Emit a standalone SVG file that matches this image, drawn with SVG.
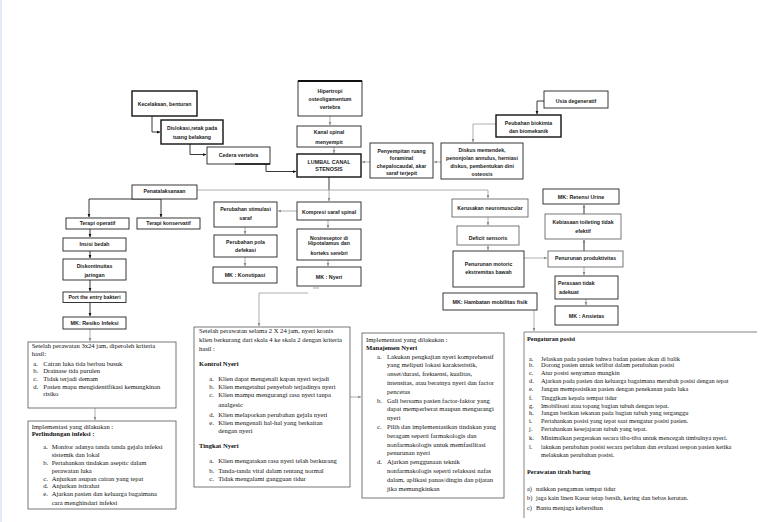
<svg xmlns="http://www.w3.org/2000/svg" width="768" height="522" viewBox="0 0 768 522">
<style>
.b{fill:#fff;stroke:#222;stroke-width:.9}
.bk{fill:#fff;stroke:#111;stroke-width:1.4}
.bl{fill:#fff;stroke:#555;stroke-width:.8}
.t{font-family:"Liberation Sans",Arial,sans-serif;font-size:5.2px;font-weight:bold;fill:#1a1a1a;text-anchor:middle}
.m{font-size:5.4px}
.s{font-family:"Liberation Serif","Times New Roman",serif;font-size:6.6px;fill:#111}
.r{font-size:6.3px}
.sb{font-weight:bold}
.c{fill:none;stroke:#999;stroke-width:.8}
.cd{fill:none;stroke:#222;stroke-width:.9}
</style>
<defs>
<marker id="ag" viewBox="0 0 6 6" refX="5.5" refY="3" markerWidth="4" markerHeight="4" orient="auto"><path d="M0,0.5 L6,3 L0,5.5 z" fill="#888"/></marker>
<marker id="ad" viewBox="0 0 6 6" refX="5.5" refY="3" markerWidth="4" markerHeight="4" orient="auto"><path d="M0,0.5 L6,3 L0,5.5 z" fill="#111"/></marker>
</defs>
<rect width="768" height="522" fill="#fff"/>
<line x1="1" y1="0" x2="1" y2="522" stroke="#e3eaf1" stroke-width="2"/>

<g id="connectors">
<path class="cd" d="M152,116 V132 H160" marker-end="url(#ad)"/>
<path class="cd" d="M190,144 V154.5 H206" marker-end="url(#ad)"/>
<path class="cd" d="M266,164 V171.5 H296" marker-end="url(#ad)"/>
<path class="c" d="M330,116 V125" marker-end="url(#ag)"/>
<path class="c" d="M334,146 V153" marker-end="url(#ag)"/>
<path class="cd" d="M544,101 H537 V114" marker-end="url(#ad)"/>
<path class="c" d="M496,124 H473 V142" marker-end="url(#ag)"/>
<path class="c" d="M441,162 H434" marker-end="url(#ag)"/>
<path class="c" d="M370,162 H362" marker-end="url(#ag)"/>
<path class="cd" d="M329,177 V190" stroke-width="1.4"/>
<path class="c" d="M197,190 H488"/>
<path class="c" d="M329,190 V201" marker-end="url(#ag)"/>
<path class="c" d="M488,190 V198" marker-end="url(#ag)"/>
<path class="cd" d="M161,199 H89 V217" marker-end="url(#ad)"/>
<path class="cd" d="M161,199 V217" marker-end="url(#ad)"/>
<path class="cd" d="M90,229 V237" marker-end="url(#ad)"/>
<path class="cd" d="M90,251 V258" marker-end="url(#ad)"/>
<path class="cd" d="M90,280 V291" marker-end="url(#ad)"/>
<path class="cd" d="M90,302 V316" marker-end="url(#ad)"/>
<path class="c" d="M90,329 V341" marker-end="url(#ag)"/>
<path class="c" d="M95,408 V420" marker-end="url(#ag)"/>
<path class="c" d="M297,211 H278" marker-end="url(#ag)"/>
<path class="c" d="M245,227 V234" marker-end="url(#ag)"/>
<path class="c" d="M245,257 V266" marker-end="url(#ag)"/>
<path class="c" d="M328,220 V228" marker-end="url(#ag)"/>
<path class="c" d="M328,260 V266" marker-end="url(#ag)"/>
<path class="c" d="M319,288 H313 M308,293 H259 V326" marker-end="url(#ag)"/>
<path class="c" d="M488,217 V225" marker-end="url(#ag)"/>
<path class="c" d="M488,245 V250" marker-end="url(#ag)"/>
<path class="c" d="M524,258 H547" marker-end="url(#ag)"/>
<path class="c" d="M534,310 V331" marker-end="url(#ag)"/>
<path class="cd" d="M584,251 V240" marker-end="url(#ag)"/>
<path class="cd" d="M584,214 V205" marker-end="url(#ag)"/>
<path class="c" d="M584,267 V275" marker-end="url(#ag)"/>
<path class="c" d="M586,299 V305" marker-end="url(#ag)"/>
<path class="c" d="M350,397 H361" marker-end="url(#ag)"/>
</g>

<g id="n-kecelakaan"><rect class="bk" x="132" y="91" width="65" height="25"/><text class="t" x="164.5" y="105.5">Kecelakaan, benturan</text></g>
<g id="n-dislokasi"><rect class="bk" x="161" y="120" width="62" height="24"/><text class="t" x="192" y="130.2">Dislokasi,retak pada</text><text class="t" x="192" y="138.5">tuang belakang</text></g>
<g id="n-cedera"><rect class="b" x="207" y="147" width="63" height="17"/><line x1="235" y1="164" x2="270" y2="164" stroke="#111" stroke-width="1.6"/><text class="t" x="238.5" y="157">Cedera vertebra</text></g>
<g id="n-hipertropi"><rect class="b" x="298" y="81" width="64" height="35"/><line x1="298" y1="81" x2="362" y2="81" stroke="#111" stroke-width="2"/><text class="t" x="330" y="92.5">Hipertropi</text><text class="t" x="330" y="101">osteoligamentum</text><text class="t" x="330" y="109.3">vertebra</text></g>
<g id="n-kanal"><rect class="b" x="297" y="126" width="64" height="21"/><text class="t" x="329" y="133.5">Kanal spinal</text><text class="t" x="329" y="143.5">menyempit</text></g>
<g id="n-lumbal"><rect class="bk" x="297" y="154" width="64" height="23"/><text class="t m" x="329" y="163.5">LUMBAL CANAL</text><text class="t m" x="329" y="170.8">STENOSIS</text></g>
<g id="n-penyempitan"><rect class="b" x="370" y="143" width="63" height="35"/><text class="t" x="401.5" y="152.5">Penyempitan ruang</text><text class="t" x="401.5" y="160">foraminal</text><text class="t" x="401.5" y="167.8">chepalocaudal, akar</text><text class="t" x="401.5" y="175.2">saraf terjepit</text></g>
<g id="n-diskus"><rect class="b" x="441" y="143" width="82" height="36"/><text class="t" x="482" y="151.8">Diskus memendek,</text><text class="t" x="482" y="159.6">penonjolan annulus, herniasi</text><text class="t" x="482" y="167.6">diskus, pembentukan dini</text><text class="t" x="482" y="176">osteosis</text></g>
<g id="n-peubahan"><rect class="bk" x="496" y="115" width="65" height="22"/><text class="t" x="528.5" y="124.5">Peubahan biokimia</text><text class="t" x="528.5" y="133">dan biomekanik</text></g>
<g id="n-usia"><rect class="b" x="544" y="91" width="64" height="17"/><text class="t" x="576" y="103">Usia degeneratif</text></g>

<g id="n-penatalaksanaan"><rect class="b" x="132" y="185" width="65" height="14"/><text class="t" x="164.5" y="192.8">Penatalaksanaan</text></g>
<g id="n-operatif"><rect class="b" x="66" y="218" width="63" height="11"/><text class="t" x="97.5" y="225.2">Terapi operatif</text></g>
<g id="n-konservatif"><rect class="b" x="137" y="218" width="63" height="11"/><text class="t" x="168.5" y="225.2">Terapi konservatif</text></g>
<g id="n-insisi"><rect class="b" x="63" y="238" width="63" height="13"/><text class="t" x="94.5" y="246.2">Insisi bedah</text></g>
<g id="n-diskontinuitas"><rect class="b" x="63" y="259" width="63" height="21"/><text class="t" x="94.5" y="267.5">Diskontinuitas</text><text class="t" x="94.5" y="276.8">jaringan</text></g>
<g id="n-port"><rect class="b" x="63" y="292" width="63" height="10.5"/><text class="t" x="94.5" y="299.2">Port the entry bakteri</text></g>
<g id="n-resiko"><rect class="b" x="63" y="317" width="63" height="12"/><text class="t m" x="94.5" y="325.3">MK: Resiko Infeksi</text></g>

<g id="n-stimulasi"><rect class="b" x="214" y="202" width="63" height="25"/><text class="t" x="245.5" y="211">Perubahan stimulasi</text><text class="t" x="245.5" y="219.5">saraf</text></g>
<g id="n-pola"><rect class="b" x="214" y="235" width="63" height="22"/><text class="t" x="245.5" y="243.5">Perubahan pola</text><text class="t" x="245.5" y="252">defekasi</text></g>
<g id="n-konstipasi"><rect class="b" x="213" y="267" width="64" height="16"/><text class="t m" x="245" y="277">MK : Konstipasi</text></g>
<g id="n-kompresi"><rect class="b" x="297" y="202" width="64" height="18"/><text class="t" x="329" y="213.5">Kompresi saraf spinal</text></g>
<g id="n-nosireseptor"><rect class="b" x="297" y="229" width="64" height="31"/><text class="t" x="329" y="239.5">Nosireseptor di</text><text class="t" x="329" y="244.5">Hipotalamus dan</text><text class="t" x="329" y="255">korteks serebri</text></g>
<g id="n-nyeri"><rect class="b" x="297" y="267" width="64" height="19"/><text class="t m" x="329" y="278.6">MK : Nyeri</text></g>

<g id="n-kerusakan"><rect class="bl" x="452" y="199" width="76" height="18"/><text class="t" x="490" y="210.2">Kerusakan neuromuscular</text></g>
<g id="n-deficit"><rect class="bl" x="457" y="226" width="62" height="19"/><text class="t" x="488" y="240.2">Deficit sensoris</text></g>
<g id="n-motoric"><rect class="b" x="453" y="251" width="71" height="36"/><text class="t" x="488.5" y="266.2">Penurunan motoric</text><text class="t" x="488.5" y="274.2">ekstremitas bawah</text></g>
<g id="n-hambatan"><rect class="b" x="443" y="293" width="94" height="17"/><text class="t m" x="490" y="303.6">MK: Hambatan mobilitas fisik</text></g>

<g id="n-retensi"><rect class="b" x="543" y="189" width="76" height="15"/><text class="t m" x="581" y="198.6">MK: Retensi Urine</text></g>
<g id="n-kebiasaan"><rect class="bl" x="545" y="214" width="76" height="25"/><text class="t" x="583" y="224.2">Kebiasaan toileting tidak</text><text class="t" x="583" y="232.5">efektif</text></g>
<g id="n-produktivitas"><rect class="bl" x="548" y="251" width="75" height="16"/><text class="t" x="585.5" y="260.2">Penurunan produktivitas</text></g>
<g id="n-perasaan"><rect class="b" x="555" y="276" width="63" height="23"/><text class="t" x="558" y="284.6" style="text-anchor:start">Perasaan tidak</text><text class="t" x="559" y="293.6" style="text-anchor:start">adekuat</text></g>
<g id="n-ansietas"><rect class="b" x="555" y="306" width="63" height="19"/><text class="t m" x="586.5" y="317.6">MK : Ansietas</text></g>

<g id="n-kriteria-infeksi"><rect class="bl" x="28" y="342" width="148" height="66"/>
<text class="s" x="31.7" y="348.4">Setelah perawatan 3x24 jam, diperoleh kriteria</text>
<text class="s" x="31.7" y="356.2">hasil:</text>
<text class="s" x="33.3" y="365.5">a.</text><text class="s" x="43.3" y="365.5">Cairan luka tida  berbau busuk</text>
<text class="s" x="33.3" y="372.8">b.</text><text class="s" x="43.3" y="372.8">Drainase tida purulen</text>
<text class="s" x="33.3" y="380.5">c.</text><text class="s" x="43.3" y="380.5">Tidak terjadi demam</text>
<text class="s" x="33.3" y="388.8">d.</text><text class="s" x="43.3" y="388.8">Pasien mapu mengidentifikasi kemungkinan</text>
<text class="s" x="43.3" y="396.2">risiko</text>
</g>
<g id="n-impl-infeksi"><rect class="bl" x="28" y="421" width="148" height="88"/>
<text class="s" x="31.7" y="429.4">Implementasi yang dilakukan :</text>
<text class="s sb" x="31.7" y="436.2">Perlindungan infeksi :</text>
<text class="s" x="43.3" y="449.4">a.</text><text class="s" x="51.7" y="449.4">Monitor adanya tanda tanda gejala infeksi</text>
<text class="s" x="51.7" y="457.1">sistemik dan lokal</text>
<text class="s" x="43.3" y="464.8">b.</text><text class="s" x="51.7" y="464.8">Pertahankan tindakan aseptic dalam</text>
<text class="s" x="51.7" y="472.8">perawatan luka</text>
<text class="s" x="43.3" y="481.1">c.</text><text class="s" x="51.7" y="481.1">Anjurkan asupan cairan yang tepat</text>
<text class="s" x="43.3" y="488.1">d.</text><text class="s" x="51.7" y="488.1">Anjurkan istirahat</text>
<text class="s" x="43.3" y="496.4">e.</text><text class="s" x="51.7" y="496.4">Ajarkan pasien dan keluarga bagaimana</text>
<text class="s" x="51.7" y="504.8">cara menghindari infeksi</text>
</g>

<g id="n-kriteria-nyeri"><rect class="bl" x="194" y="327" width="156" height="160"/>
<text class="s" x="199" y="333.3">Setelah perawatan selama 2 X 24 jam, nyeri kronis</text>
<text class="s" x="199" y="342.3">klien berkurang dari skala 4 ke skala 2 dengan kriteria</text>
<text class="s" x="199" y="351.3">hasil :</text>
<text class="s sb" x="199" y="365.6">Kontrol Nyeri</text>
<text class="s" x="209.3" y="380.5">a.</text><text class="s" x="218.3" y="380.5">Klien dapat mengenali kapan nyeri terjadi</text>
<text class="s" x="209.3" y="388.9">b.</text><text class="s" x="218.3" y="388.9">Klien mengetahui penyebab terjadinya nyeri</text>
<text class="s" x="209.3" y="397.2">c.</text><text class="s" x="218.3" y="397.2">Klien mampu mengurangi rasa nyeri tanpa</text>
<text class="s" x="218.3" y="406.5">analgesic</text>
<text class="s" x="209.3" y="416.5">d.</text><text class="s" x="218.3" y="416.5">Klien melaporkan perubahan gejala nyeri</text>
<text class="s" x="209.3" y="424.5">e.</text><text class="s" x="218.3" y="424.5">Klien mengenali hal-hal yang berkaitan</text>
<text class="s" x="218.3" y="433.2">dengan nyeri</text>
<text class="s sb" x="199" y="448">Tingkat Nyeri</text>
<text class="s" x="209.3" y="463.2">a.</text><text class="s" x="218.3" y="463.2">Klien mengatakan rasa nyeri telah berkurang</text>
<text class="s" x="209.3" y="473.2">b.</text><text class="s" x="218.3" y="473.2">Tanda-tanda vital dalam rentang normal</text>
<text class="s" x="209.3" y="480.5">c.</text><text class="s" x="218.3" y="480.5">Tidak mengalami gangguan tidur</text>
</g>

<g id="n-impl-nyeri"><rect class="bl" x="362" y="333" width="142" height="165"/>
<text class="s" x="366" y="342">Implementasi yang dilakukan :</text>
<text class="s sb" x="366" y="350.3">Manajemen Nyeri</text>
<text class="s" x="377" y="358.5">a.</text><text class="s" x="387" y="358.5">Lakukan pengkajian nyeri komprehensif</text>
<text class="s" x="387" y="367.3">yang meliputi lokasi karakteristik,</text>
<text class="s" x="387" y="376.1">onset/durasi, frekuensi, kualitas,</text>
<text class="s" x="387" y="384.9">intensitas, atau beratnya nyeri dan factor</text>
<text class="s" x="387" y="393.7">pencetus</text>
<text class="s" x="377" y="402.5">b.</text><text class="s" x="387" y="402.5">Gali bersama pasien factor-faktor yang</text>
<text class="s" x="387" y="411.3">dapat memperberat maupun mengurangi</text>
<text class="s" x="387" y="420.1">nyeri</text>
<text class="s" x="377" y="428.9">c.</text><text class="s" x="387" y="428.9">Pilih dan implementasikan tindakan yang</text>
<text class="s" x="387" y="437.7">beragam seperti farmakologis dan</text>
<text class="s" x="387" y="446.5">nonfarmakologis untuk memfasilitasi</text>
<text class="s" x="387" y="455.3">penurunan nyeri</text>
<text class="s" x="377" y="464.1">d.</text><text class="s" x="387" y="464.1">Ajarkan penggunaan teknik</text>
<text class="s" x="387" y="472.9">nonfarmakologis seperti relaksasi nafas</text>
<text class="s" x="387" y="481.7">dalam, aplikasi panas/dingin dan pijatan</text>
<text class="s" x="387" y="490.5">jika memungkinkan</text>
</g>

<g id="n-pengaturan-posisi">
<path d="M524,518 V332 H757" fill="none" stroke="#666" stroke-width=".8"/>
<text class="s r sb" x="527" y="341">Pengaturan posisi</text>
<text class="s r" x="529" y="360.5">a.</text><text class="s r" x="541" y="360.5">Jelaskan pada pasien bahwa badan pasien akan di balik</text>
<text class="s r" x="529" y="367">b.</text><text class="s r" x="541" y="367">Dorong pasien untuk terlibat dalam perubahan posisi</text>
<text class="s r" x="529" y="374.8">c.</text><text class="s r" x="541" y="374.8">Atur posisi senyaman mungkin</text>
<text class="s r" x="529" y="382.9">d.</text><text class="s r" x="541" y="382.9">Ajarkan pada pasien dan keluarga bagaimana merubah posisi dengan tepat</text>
<text class="s r" x="529" y="391.4">e.</text><text class="s r" x="541" y="391.4">Jangan memposisikan pasien dengan penekanan pada luka</text>
<text class="s r" x="529" y="399.8">f.</text><text class="s r" x="541" y="399.8">Tinggikan kepala tempat tidur</text>
<text class="s r" x="529" y="407.6">g.</text><text class="s r" x="541" y="407.6">Imobilisasi atau topang bagian tubuh dengan tepat.</text>
<text class="s r" x="529" y="414.5">h.</text><text class="s r" x="541" y="414.5">Jangan berikan tekanan pada bagian tubuh yang terganggu</text>
<text class="s r" x="529" y="422.8">i.</text><text class="s r" x="541" y="422.8">Pertahankan posisi yang tepat saat mengatur posisi pasien.</text>
<text class="s r" x="529" y="431.4">j.</text><text class="s r" x="541" y="431.4">Pertahankan kesejajaran tubuh yang tepat.</text>
<text class="s r" x="529" y="440.2">k.</text><text class="s r" x="541" y="440.2">Minimalkan pergerakan secara tiba-tiba untuk mencegah timbulnya nyeri.</text>
<text class="s r" x="529" y="449">l.</text><text class="s r" x="541" y="449">lakukan perubahan posisi secara perlahan dan evaluasi respon pasien ketika</text>
<text class="s r" x="541" y="456.5">melakukan perubahan posisi.</text>
<text class="s r sb" x="527" y="474">Perawatan tirah baring</text>
<text class="s r" x="527" y="490.7">a)</text><text class="s r" x="536" y="490.7">naikkan pengaman tempat tidur</text>
<text class="s r" x="527" y="500.4">b)</text><text class="s r" x="536" y="500.4">jaga kain linen Kasur tetap bersih, kering dan bebas kerutan.</text>
<text class="s r" x="527" y="510">c)</text><text class="s r" x="536" y="510">Bantu menjaga kebersihan</text>
</g>
</svg>
